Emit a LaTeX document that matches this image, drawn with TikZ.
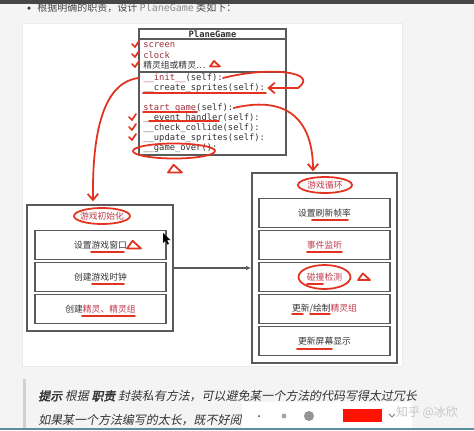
\documentclass[tikz,border=0pt]{standalone}
\usepackage{fontspec}
\setmainfont{Noto Sans CJK SC}
\setmonofont{DejaVu Sans Mono}
\newfontfamily\slantfont[FakeSlant=0.2]{Noto Sans CJK SC}
\newfontfamily\slantbold[FakeSlant=0.2,FakeBold=2.5]{Noto Sans CJK SC}
\usetikzlibrary{arrows.meta,calc,shapes.geometric}
\definecolor{inkred}{HTML}{E3321F}
\definecolor{docred}{HTML}{C0394A}
\definecolor{codered}{HTML}{9B2D3A}
\definecolor{framegray}{HTML}{5A5A5A}
\definecolor{pagegray}{HTML}{F4F4F5}
\definecolor{textgray}{HTML}{333333}
\definecolor{stripteal}{HTML}{5E8D9C}
\tikzset{
	outer/.style={draw=framegray, line width=0.8pt, fill=white, inner sep=0pt},
	inner/.style={draw=framegray, line width=0.8pt, minimum width=2.62cm, minimum height=0.58cm, inner sep=0pt, font=\fontsize{5}{6}\selectfont, text=textgray},
	code/.style={anchor=west, inner sep=0pt, font=\ttfamily\fontsize{5}{6}\selectfont, text=textgray},
	ink/.style={draw=inkred, line width=1pt, line cap=round, line join=round, >={Straight Barb[length=3.5pt,width=6pt]}},
}
\begin{document}
\begin{tikzpicture}[x=0.02cm, y=-0.02cm]
		\fill[pagegray] (0,0) rectangle (474,430);
		\useasboundingbox (0,0) rectangle (474,430);
		\fill[white] (22,23) rectangle (402,366);
		\draw[black!8] (22,23) rectangle (402,366);
		
		% header line
		\fill[textgray] (29,8) circle (0.035cm);
		\node[anchor=west, inner sep=0pt, text=textgray!90, font=\fontsize{5.7}{6}\selectfont] (head) at (37,8) {根据明确的职责，设计 \textcolor{black!45}{\ttfamily PlaneGame} 类如下：};
		\fill[black!72] (0,0) rectangle (474,4);
		
		% class box
		\node[outer, minimum width=2.94cm, minimum height=2.52cm] (cls) at (212.5,92) {};
		\draw[framegray, line width=0.8pt] (cls.west |- 0,39) -- (cls.east |- 0,39);
		\draw[framegray, line width=0.8pt] (cls.west |- 0,72) -- (cls.east |- 0,72);
		\node[code, anchor=center, font=\ttfamily\bfseries\fontsize{5}{6}\selectfont] (ctitle) at (212.5,34) {PlaneGame};
		\node[code, text=codered] (scr) at (143,45) {screen};
		\node[code, text=codered] (clk) at (143,55) {clock};
		\node[code, font=\fontsize{5}{6}\selectfont] (spr) at (143,65) {精灵组或精灵…};
		\node[code] (m_init) at (143,78) {\textcolor{codered}{\_\_init\_\_}(self):};
		\node[code] (m_create) at (143,88) {\_\_create\_sprites(self):};
		\node[code] (m_start) at (143,108) {\textcolor{codered}{start\_game}(self):};
		\node[code] (m_event) at (143,118) {\_\_event\_handler(self):};
		\node[code] (m_collide) at (143,128) {\_\_check\_collide(self):};
		\node[code] (m_update) at (143,138) {\_\_update\_sprites(self):};
		\node[code] (m_over) at (143,148) {\_\_game\_over():};
		
		% init block
		\node[outer, minimum width=2.92cm, minimum height=2.52cm] (init) at (100,268) {};
		\node[inner sep=0pt, text=docred, font=\fontsize{5}{6}\selectfont] (inittitle) at (102,216) {游戏初始化};
		\node[inner] (win) at (100.5,245) {设置游戏窗口};
		\node[inner] (clock) at (100.5,277) {创建游戏时钟};
		\node[inner] (sprites) at (100.5,309) {创建\textcolor{docred}{精灵、精灵组}};
		
		% loop block
		\node[outer, minimum width=2.9cm, minimum height=3.8cm] (loop) at (324.5,268) {};
		\node[inner sep=0pt, text=docred, font=\fontsize{5}{6}\selectfont] (looptitle) at (325,185) {游戏循环};
		\node[inner] (rate) at (324.5,213) {设置刷新帧率};
		\node[inner] (events) at (324.5,245) {\textcolor{docred}{事件监听}};
		\node[inner] (collide) at (324.5,277) {\textcolor{docred}{碰撞检测}};
		\node[inner] (update) at (324.5,309) {更新/绘制\textcolor{docred}{精灵组}};
		\node[inner] (screen) at (324.5,341) {更新屏幕显示};
		
		\draw[framegray, line width=0.8pt, -{Latex[length=3pt,width=2.6pt]}] (init.east) -- (loop.west);
		
		% mouse pointer
		\fill[black] (163,233) -- (163,243) -- (165.5,240.5) -- (167.5,244.5) -- (169,243.8) -- (167,240) -- (170.5,240) -- cycle;
		
		% hand marks
		\foreach \x/\y in {132/45,132/55,132/65,129/118,129/128,129/138}
			\draw[ink] (\x,\y-1) -- (\x+3,\y+2) -- (\x+7,\y-4);
		\foreach \x/\y/\s in {215/64/5,175/169/7,134/245/7,364/277/6}
			\draw[ink] (\x-\s,\y+0.5*\s) -- (\x-0.2*\s,\y-0.6*\s) -- (\x+\s,\y+0.5*\s) -- cycle;
		\foreach \a/\b/\y in {143/266/93,143/197/112,149/219/121,91/124/252,92/124/284,82/135/316,312/348/220,307/342/252,307/323/284,292/303/314,310/330/314,297/332/349}
			\draw[ink] (\a,\y) -- (\b,\y);
		\draw[ink] (174,151) ellipse [x radius=0.82cm, y radius=0.15cm];
		\draw[ink] (inittitle.center) ellipse [x radius=0.56cm, y radius=0.16cm];
		\draw[ink] (looptitle.center) ellipse [x radius=0.54cm, y radius=0.16cm];
		\draw[ink] (collide.center) ellipse [x radius=0.52cm, y radius=0.24cm];
		\draw[ink,->] (m_init.east) .. controls (270,66) and (320,72) .. (298,88) -- ($(m_create.east)+(2,0)$);
		\draw[ink,->] (cls.west |- m_init) .. controls (108,82) and (92,120) .. ($(init.north -| 93,0)+(0,-3)$);
		\draw[ink,->] (m_start.east) .. controls (292,94) and (313,125) .. ($(loop.north -| 313,0)+(0,-1)$);
		
		% tip quote
		\fill[black!18] (23,379) rectangle (26,430);
		\node[anchor=west, inner sep=0pt, text=textgray, font=\slantfont\fontsize{6.8}{7}\selectfont] (tip) at (38,396) {{\slantbold 提示} 根据 {\slantbold 职责} 封装私有方法，可以避免某一个方法的代码写得太过冗长};
		\node[anchor=west, inner sep=0pt, text=textgray, font=\slantfont\fontsize{6.8}{7}\selectfont] (more) at (38,420) {如果某一个方法编写的太长，既不好阅};
		
		% toolbar overlay
		\fill[white] (242,402) rectangle (412,430);
		\fill[black!75] (259,416) circle (0.02cm);
		\fill[black!35] (284,416) circle (0.05cm);
		\fill[black!42] (309,416) circle (0.1cm);
		\fill[red!85!orange] (343,409) rectangle (382,422);
		\draw[black!50, line width=0.5pt] (389,414) -- (392,417) -- (395,414);
		\node[inner sep=0pt, text=black!22, font=\fontsize{6.8}{7}\selectfont] (mark) at (427,412) {知乎 @冰欣};
		\fill[stripteal] (0,428) rectangle (474,430);
	\end{tikzpicture}
\end{document}
